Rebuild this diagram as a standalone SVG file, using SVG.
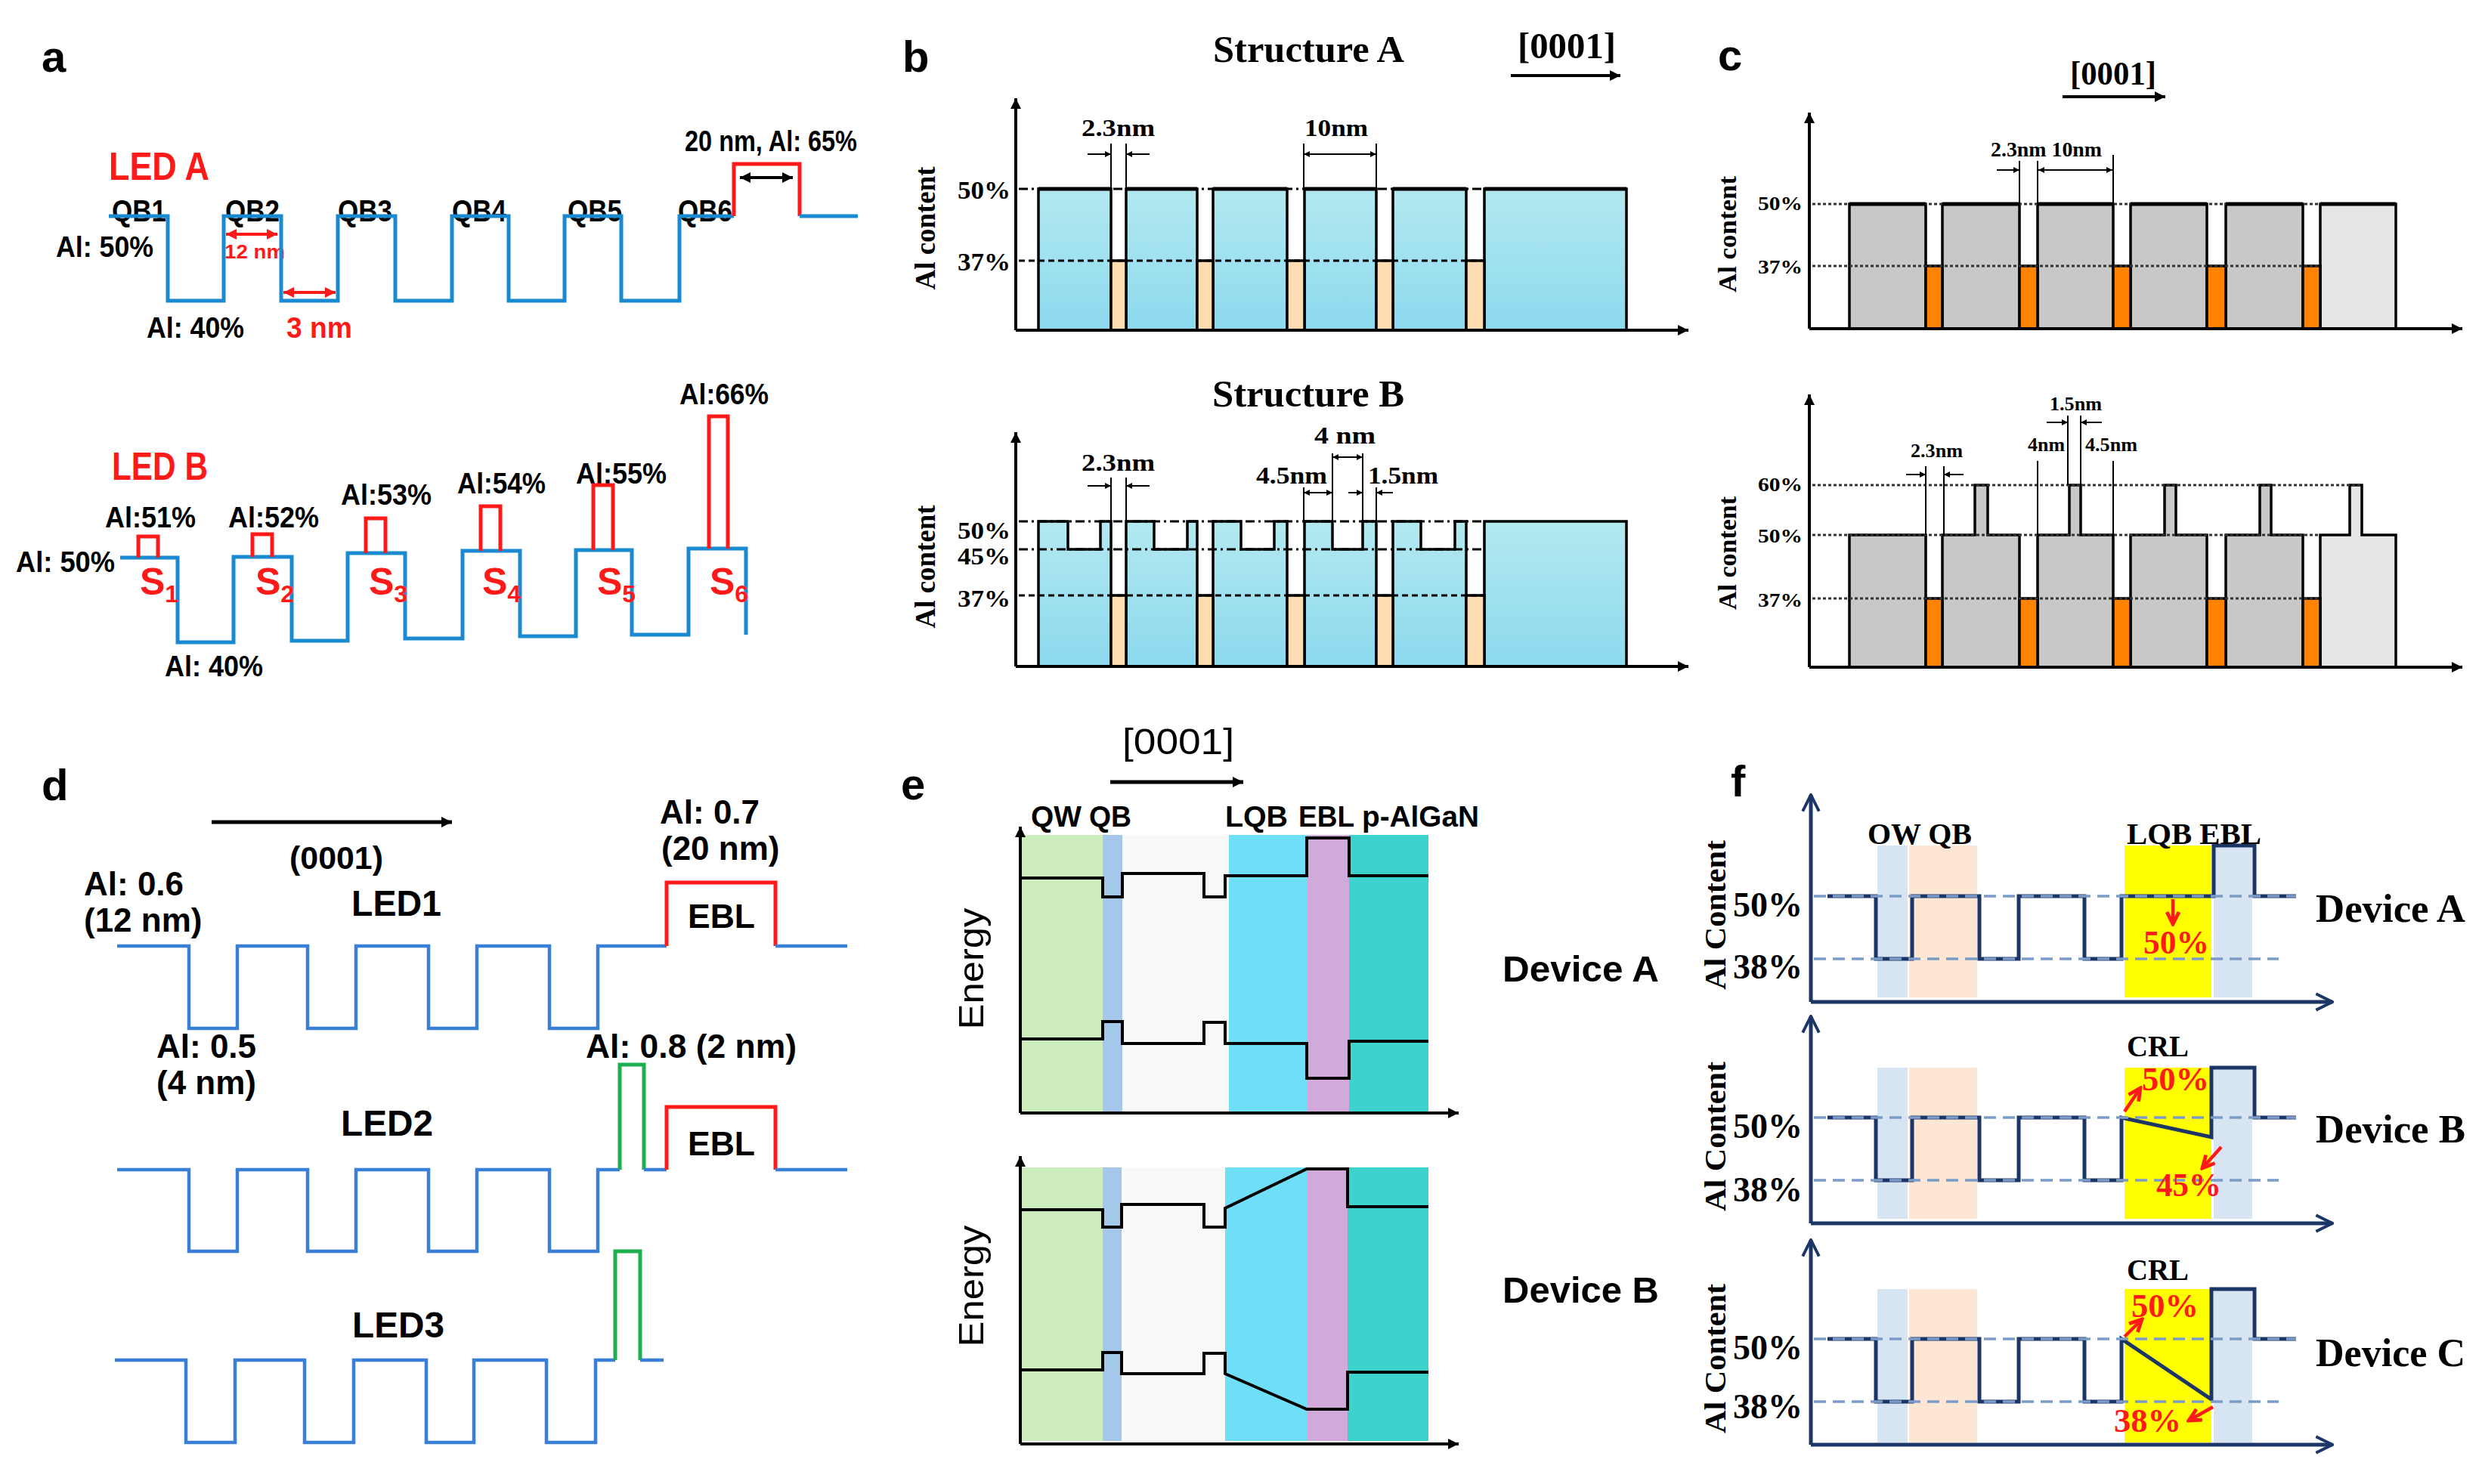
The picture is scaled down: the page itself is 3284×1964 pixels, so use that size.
<svg xmlns="http://www.w3.org/2000/svg" width="3284" height="1964" viewBox="0 0 3284 1964">
<defs>
<style>
.lbl{font-family:"Liberation Sans",Arial,sans-serif;font-weight:bold;font-size:58px;fill:#000}
.sb{font-family:"Liberation Sans",Arial,sans-serif;font-weight:bold}
.sr{font-family:"Liberation Sans",Arial,sans-serif;font-weight:normal}
.tm{font-family:"Liberation Serif","Times New Roman",serif;font-weight:bold}
.red{fill:#ff1a1a}
.wa{fill:none;stroke:#1a8ad0;stroke-width:5}
.wb{fill:none;stroke:#3a7fd6;stroke-width:4.5}
.wr{fill:none;stroke:#ff1a1a;stroke-width:5}
.wg{fill:none;stroke:#1db04e;stroke-width:5}
.ax{fill:none;stroke:#000;stroke-width:4}
.bx{stroke:#000;stroke-width:3.5}
.cy{fill:url(#gcy)}
.gr{fill:#c8c8c8}
.lg{fill:#e5e5e5}
.pe{fill:#fcdcb0}
.or{fill:#ff8200}
.dim{stroke:#000;stroke-width:2;fill:none}
.dd{stroke:#000;stroke-width:3;fill:none;stroke-dasharray:12 5 3 5}
.ds{stroke:#000;stroke-width:3;fill:none;stroke-dasharray:8 5}
.dt{stroke:#333;stroke-width:3;fill:none;stroke-dasharray:4 3}
.eb{fill:none;stroke:#000;stroke-width:4}
.nv{fill:none;stroke:#1c3567;stroke-width:5}
.fd{fill:none;stroke:#7b9cc8;stroke-width:3.5;stroke-dasharray:16 9}
.rf{fill:none;stroke:#ff1a1a;stroke-width:4.5}
</style>
<linearGradient id="gcy" x1="0" y1="0" x2="0" y2="1">
<stop offset="0" stop-color="#b3e9f0"/>
<stop offset="1" stop-color="#8cd9ee"/>
</linearGradient>
<marker id="mk" viewBox="0 0 10 10" refX="10" refY="5" markerWidth="20" markerHeight="14" markerUnits="userSpaceOnUse" orient="auto-start-reverse"><path d="M0,0 L10,5 L0,10 z" fill="#000"/></marker>
<marker id="ms" viewBox="0 0 10 10" refX="10" refY="5" markerWidth="11" markerHeight="8" markerUnits="userSpaceOnUse" orient="auto-start-reverse"><path d="M0,0 L10,5 L0,10 z" fill="#000"/></marker>
<marker id="mr" viewBox="0 0 10 10" refX="10" refY="5" markerWidth="18" markerHeight="14" markerUnits="userSpaceOnUse" orient="auto-start-reverse"><path d="M0,0 L10,5 L0,10 z" fill="#ff1a1a"/></marker>
<marker id="mrf" viewBox="0 0 10 10" refX="9" refY="5" markerWidth="22" markerHeight="20" markerUnits="userSpaceOnUse" orient="auto"><path d="M1,1 L9,5 L1,9" fill="none" stroke="#ff1a1a" stroke-width="2.4"/></marker>
<marker id="mc" viewBox="0 0 12 12" refX="11" refY="6" markerWidth="26" markerHeight="26" markerUnits="userSpaceOnUse" orient="auto"><path d="M1,1 L11,6 L1,11" fill="none" stroke="#1c3567" stroke-width="1.8"/></marker>
</defs>
<rect width="3284" height="1964" fill="#fff"/>

<!-- ================= Panel a ================= -->
<g id="panel-a">
<text class="lbl" x="55" y="95">a</text>
<g id="led-a">
<text class="sb red" x="144" y="238" font-size="52" textLength="133" lengthAdjust="spacingAndGlyphs">LED A</text>
<text class="sb" x="148" y="293" font-size="40" textLength="72" lengthAdjust="spacingAndGlyphs">QB1</text>
<text class="sb" x="298" y="293" font-size="40" textLength="72" lengthAdjust="spacingAndGlyphs">QB2</text>
<text class="sb" x="447" y="293" font-size="40" textLength="72" lengthAdjust="spacingAndGlyphs">QB3</text>
<text class="sb" x="598" y="293" font-size="40" textLength="72" lengthAdjust="spacingAndGlyphs">QB4</text>
<text class="sb" x="751" y="293" font-size="40" textLength="72" lengthAdjust="spacingAndGlyphs">QB5</text>
<text class="sb" x="897" y="293" font-size="40" textLength="72" lengthAdjust="spacingAndGlyphs">QB6</text>
<text class="sb" x="906" y="200" font-size="38" textLength="228" lengthAdjust="spacingAndGlyphs">20 nm, Al: 65%</text>
<text class="sb" x="74" y="340" font-size="38" textLength="129" lengthAdjust="spacingAndGlyphs">Al: 50%</text>
<text class="sb" x="194" y="447" font-size="38" textLength="129" lengthAdjust="spacingAndGlyphs">Al: 40%</text>
<text class="sb red" x="379" y="447" font-size="38" textLength="87" lengthAdjust="spacingAndGlyphs">3 nm</text>
<text class="sb red" x="297" y="342" font-size="26" textLength="80" lengthAdjust="spacingAndGlyphs">12 nm</text>
<path class="wa" d="M144,286 H222 V398 H296 V286 H372 V398 H447 V286 H523 V398 H598 V286 H673 V398 H747 V286 H822 V398 H899 V286 H971"/>
<path class="wr" d="M971,286 V217 H1058 V286"/>
<path class="wa" d="M1058,286 H1135"/>
<line x1="299" y1="310" x2="367" y2="310" stroke="#ff1a1a" stroke-width="4" marker-start="url(#mr)" marker-end="url(#mr)"/>
<line x1="375" y1="387" x2="444" y2="387" stroke="#ff1a1a" stroke-width="4" marker-start="url(#mr)" marker-end="url(#mr)"/>
<line x1="979" y1="235" x2="1049" y2="235" stroke="#000" stroke-width="4" marker-start="url(#mk)" marker-end="url(#mk)"/>
</g>
<g id="led-b">
<text class="sb red" x="148" y="635" font-size="52" textLength="127" lengthAdjust="spacingAndGlyphs">LED B</text>
<text class="sb" x="139" y="698" font-size="38" textLength="120" lengthAdjust="spacingAndGlyphs">Al:51%</text>
<text class="sb" x="302" y="698" font-size="38" textLength="120" lengthAdjust="spacingAndGlyphs">Al:52%</text>
<text class="sb" x="451" y="668" font-size="38" textLength="120" lengthAdjust="spacingAndGlyphs">Al:53%</text>
<text class="sb" x="605" y="653" font-size="38" textLength="117" lengthAdjust="spacingAndGlyphs">Al:54%</text>
<text class="sb" x="762" y="640" font-size="38" textLength="120" lengthAdjust="spacingAndGlyphs">Al:55%</text>
<text class="sb" x="899" y="535" font-size="38" textLength="118" lengthAdjust="spacingAndGlyphs">Al:66%</text>
<text class="sb" x="21" y="757" font-size="38" textLength="131" lengthAdjust="spacingAndGlyphs">Al: 50%</text>
<text class="sb" x="218" y="895" font-size="38" textLength="130" lengthAdjust="spacingAndGlyphs">Al: 40%</text>
<path class="wa" d="M159,738 H235 V850 H309 V737 H386 V848 H460 V732 H536 V845 H612 V729 H688 V842 H762 V728 H836 V840 H911 V726 H987 V840"/>
<path class="wr" d="M183,738 V710 H209 V738"/>
<path class="wr" d="M334,737 V707 H360 V737"/>
<path class="wr" d="M484,732 V686 H510 V732"/>
<path class="wr" d="M636,729 V670 H662 V729"/>
<path class="wr" d="M785,728 V642 H811 V728"/>
<path class="wr" d="M938,726 V551 H963 V726"/>
<text class="sb red" x="185" y="787" font-size="50">S<tspan font-size="32" dy="10">1</tspan></text>
<text class="sb red" x="338" y="787" font-size="50">S<tspan font-size="32" dy="10">2</tspan></text>
<text class="sb red" x="488" y="787" font-size="50">S<tspan font-size="32" dy="10">3</tspan></text>
<text class="sb red" x="638" y="787" font-size="50">S<tspan font-size="32" dy="10">4</tspan></text>
<text class="sb red" x="790" y="787" font-size="50">S<tspan font-size="32" dy="10">5</tspan></text>
<text class="sb red" x="939" y="787" font-size="50">S<tspan font-size="32" dy="10">6</tspan></text>
</g>
</g>

<!-- ================= Panel b ================= -->
<g id="panel-b">
<text class="lbl" x="1194" y="95">b</text>
<g id="structure-a">
<text class="tm" x="1605" y="82" font-size="50" textLength="253" lengthAdjust="spacingAndGlyphs">Structure A</text>
<text class="tm" x="2008" y="77" font-size="48" textLength="130" lengthAdjust="spacingAndGlyphs">[0001]</text>
<line x1="1999" y1="100" x2="2144" y2="100" stroke="#000" stroke-width="4" marker-end="url(#mk)"/>
<rect class="bx cy" x="1374" y="250" width="96" height="187"/>
<rect class="bx cy" x="1490" y="250" width="94" height="187"/>
<rect class="bx cy" x="1605" y="250" width="98" height="187"/>
<rect class="bx cy" x="1726" y="250" width="95" height="187"/>
<rect class="bx cy" x="1843" y="250" width="97" height="187"/>
<rect class="bx cy" x="1964" y="250" width="188" height="187"/>
<rect class="bx pe" x="1470" y="345" width="20" height="92"/>
<rect class="bx pe" x="1584" y="345" width="21" height="92"/>
<rect class="bx pe" x="1703" y="345" width="23" height="92"/>
<rect class="bx pe" x="1821" y="345" width="22" height="92"/>
<rect class="bx pe" x="1940" y="345" width="24" height="92"/>
<line class="dd" x1="1348" y1="250" x2="1964" y2="250"/>
<line class="ds" x1="1348" y1="345" x2="1964" y2="345"/>
<path d="M1374,250 H1470 M1490,250 H1584 M1605,250 H1703 M1726,250 H1821 M1843,250 H1940 M1964,250 H2152" stroke="#000" stroke-width="5"/>
<path class="ax" d="M1344,437 V130" marker-end="url(#mk)"/>
<path class="ax" d="M1344,437 H2234" marker-end="url(#mk)"/>
<text class="tm" x="1237" y="302" font-size="38" text-anchor="middle" transform="rotate(-90 1237 302)" textLength="163" lengthAdjust="spacingAndGlyphs">Al content</text>
<text class="tm" x="1267" y="263" font-size="34" textLength="70" lengthAdjust="spacingAndGlyphs">50%</text>
<text class="tm" x="1267" y="358" font-size="34" textLength="70" lengthAdjust="spacingAndGlyphs">37%</text>
<path class="dim" d="M1470,190 V250 M1490,190 V250 M1725,190 V250 M1821,190 V250"/>
<line x1="1439" y1="204" x2="1470" y2="204" class="dim" marker-end="url(#ms)"/>
<line x1="1521" y1="204" x2="1490" y2="204" class="dim" marker-end="url(#ms)"/>
<line x1="1725" y1="204" x2="1821" y2="204" class="dim" marker-start="url(#ms)" marker-end="url(#ms)"/>
<text class="tm" x="1431" y="180" font-size="32" textLength="97" lengthAdjust="spacingAndGlyphs">2.3nm</text>
<text class="tm" x="1726" y="180" font-size="32" textLength="84" lengthAdjust="spacingAndGlyphs">10nm</text>
</g>
<g id="structure-b">
<text class="tm" x="1604" y="538" font-size="50" textLength="254" lengthAdjust="spacingAndGlyphs">Structure B</text>
<path class="bx cy" d="M1374,882 V690 H1413 V727 H1456 V690 H1470 V882 Z"/>
<path class="bx cy" d="M1490,882 V690 H1527 V727 H1571 V690 H1584 V882 Z"/>
<path class="bx cy" d="M1605,882 V690 H1642 V727 H1686 V690 H1703 V882 Z"/>
<path class="bx cy" d="M1726,882 V690 H1763 V727 H1803 V690 H1821 V882 Z"/>
<path class="bx cy" d="M1843,882 V690 H1880 V727 H1925 V690 H1940 V882 Z"/>
<rect class="bx cy" x="1964" y="690" width="188" height="192"/>
<rect class="bx pe" x="1470" y="788" width="20" height="94"/>
<rect class="bx pe" x="1584" y="788" width="21" height="94"/>
<rect class="bx pe" x="1703" y="788" width="23" height="94"/>
<rect class="bx pe" x="1821" y="788" width="22" height="94"/>
<rect class="bx pe" x="1940" y="788" width="24" height="94"/>
<line class="dd" x1="1348" y1="690" x2="1964" y2="690"/>
<line class="dd" x1="1348" y1="727" x2="1964" y2="727"/>
<line class="ds" x1="1348" y1="788" x2="1964" y2="788"/>
<path class="ax" d="M1344,882 V572" marker-end="url(#mk)"/>
<path class="ax" d="M1344,882 H2234" marker-end="url(#mk)"/>
<text class="tm" x="1237" y="750" font-size="38" text-anchor="middle" transform="rotate(-90 1237 750)" textLength="163" lengthAdjust="spacingAndGlyphs">Al content</text>
<text class="tm" x="1267" y="713" font-size="32" textLength="70" lengthAdjust="spacingAndGlyphs">50%</text>
<text class="tm" x="1267" y="747" font-size="32" textLength="70" lengthAdjust="spacingAndGlyphs">45%</text>
<text class="tm" x="1267" y="803" font-size="32" textLength="70" lengthAdjust="spacingAndGlyphs">37%</text>
<path class="dim" d="M1470,632 V690 M1490,632 V690 M1725,645 V690 M1763,600 V690 M1803,600 V690 M1821,645 V690"/>
<line x1="1439" y1="643" x2="1470" y2="643" class="dim" marker-end="url(#ms)"/>
<line x1="1521" y1="643" x2="1490" y2="643" class="dim" marker-end="url(#ms)"/>
<line x1="1763" y1="605" x2="1803" y2="605" class="dim" marker-start="url(#ms)" marker-end="url(#ms)"/>
<line x1="1725" y1="652" x2="1763" y2="652" class="dim" marker-start="url(#ms)" marker-end="url(#ms)"/>
<line x1="1784" y1="652" x2="1803" y2="652" class="dim" marker-end="url(#ms)"/>
<line x1="1843" y1="652" x2="1821" y2="652" class="dim" marker-end="url(#ms)"/>
<text class="tm" x="1431" y="623" font-size="32" textLength="97" lengthAdjust="spacingAndGlyphs">2.3nm</text>
<text class="tm" x="1739" y="587" font-size="32" textLength="81" lengthAdjust="spacingAndGlyphs">4 nm</text>
<text class="tm" x="1662" y="640" font-size="32" textLength="94" lengthAdjust="spacingAndGlyphs">4.5nm</text>
<text class="tm" x="1810" y="640" font-size="32" textLength="93" lengthAdjust="spacingAndGlyphs">1.5nm</text>
</g>
</g>

<!-- ================= Panel c ================= -->
<g id="panel-c">
<text class="lbl" x="2273" y="93">c</text>
<g id="c-upper">
<text class="tm" x="2739" y="112" font-size="44" textLength="114" lengthAdjust="spacingAndGlyphs">[0001]</text>
<line x1="2729" y1="128" x2="2865" y2="128" stroke="#000" stroke-width="4" marker-end="url(#mk)"/>
<rect class="bx gr" x="2447" y="270" width="101" height="165"/>
<rect class="bx gr" x="2570" y="270" width="102" height="165"/>
<rect class="bx gr" x="2696" y="270" width="100" height="165"/>
<rect class="bx gr" x="2819" y="270" width="101" height="165"/>
<rect class="bx gr" x="2945" y="270" width="102" height="165"/>
<rect class="bx lg" x="3070" y="270" width="100" height="165"/>
<rect class="bx or" x="2548" y="352" width="22" height="83"/>
<rect class="bx or" x="2672" y="352" width="24" height="83"/>
<rect class="bx or" x="2796" y="352" width="23" height="83"/>
<rect class="bx or" x="2920" y="352" width="25" height="83"/>
<rect class="bx or" x="3047" y="352" width="23" height="83"/>
<line class="dt" x1="2398" y1="270" x2="3070" y2="270"/>
<line class="dt" x1="2398" y1="352" x2="3070" y2="352"/>
<path d="M2447,270 H2548 M2570,270 H2672 M2696,270 H2796 M2819,270 H2920 M2945,270 H3047 M3070,270 H3170" stroke="#000" stroke-width="5"/>
<path class="ax" d="M2394,435 V149" marker-end="url(#mk)"/>
<path class="ax" d="M2394,435 H3258" marker-end="url(#mk)"/>
<text class="tm" x="2297" y="310" font-size="34" text-anchor="middle" transform="rotate(-90 2297 310)" textLength="154" lengthAdjust="spacingAndGlyphs">Al content</text>
<text class="tm" x="2326" y="278" font-size="26" textLength="59" lengthAdjust="spacingAndGlyphs">50%</text>
<text class="tm" x="2326" y="362" font-size="26" textLength="59" lengthAdjust="spacingAndGlyphs">37%</text>
<path class="dim" d="M2672,213 V270 M2696,213 V270 M2796,205 V270"/>
<line x1="2642" y1="225" x2="2672" y2="225" class="dim" marker-end="url(#ms)"/>
<line x1="2697" y1="225" x2="2795" y2="225" class="dim" marker-start="url(#ms)" marker-end="url(#ms)"/>
<text class="tm" x="2634" y="207" font-size="28" textLength="147" lengthAdjust="spacingAndGlyphs">2.3nm 10nm</text>
</g>
<g id="c-lower">
<rect class="bx gr" x="2447" y="708" width="101" height="175"/>
<path class="bx gr" d="M2570,883 V708 H2613 V642 H2630 V708 H2672 V883 Z"/>
<path class="bx gr" d="M2696,883 V708 H2738 V642 H2753 V708 H2796 V883 Z"/>
<path class="bx gr" d="M2819,883 V708 H2864 V642 H2879 V708 H2920 V883 Z"/>
<path class="bx gr" d="M2945,883 V708 H2990 V642 H3005 V708 H3047 V883 Z"/>
<path class="bx lg" d="M3070,883 V708 H3109 V642 H3125 V708 H3170 V883 Z"/>
<rect class="bx or" x="2548" y="792" width="22" height="91"/>
<rect class="bx or" x="2672" y="792" width="24" height="91"/>
<rect class="bx or" x="2796" y="792" width="23" height="91"/>
<rect class="bx or" x="2920" y="792" width="25" height="91"/>
<rect class="bx or" x="3047" y="792" width="23" height="91"/>
<line class="dt" x1="2398" y1="642" x2="3126" y2="642"/>
<line class="dt" x1="2398" y1="708" x2="3070" y2="708"/>
<line class="dt" x1="2398" y1="792" x2="3070" y2="792"/>
<path class="ax" d="M2394,883 V522" marker-end="url(#mk)"/>
<path class="ax" d="M2394,883 H3258" marker-end="url(#mk)"/>
<text class="tm" x="2297" y="732" font-size="34" text-anchor="middle" transform="rotate(-90 2297 732)" textLength="150" lengthAdjust="spacingAndGlyphs">Al content</text>
<text class="tm" x="2326" y="650" font-size="26" textLength="59" lengthAdjust="spacingAndGlyphs">60%</text>
<text class="tm" x="2326" y="718" font-size="26" textLength="59" lengthAdjust="spacingAndGlyphs">50%</text>
<text class="tm" x="2326" y="803" font-size="26" textLength="59" lengthAdjust="spacingAndGlyphs">37%</text>
<path class="dim" d="M2548,617 V708 M2572,617 V708 M2736,550 V642 M2753,550 V642 M2696,610 V708 M2796,610 V708"/>
<line x1="2522" y1="628" x2="2548" y2="628" class="dim" marker-end="url(#ms)"/>
<line x1="2598" y1="628" x2="2572" y2="628" class="dim" marker-end="url(#ms)"/>
<line x1="2708" y1="559" x2="2736" y2="559" class="dim" marker-end="url(#ms)"/>
<line x1="2781" y1="559" x2="2753" y2="559" class="dim" marker-end="url(#ms)"/>
<text class="tm" x="2528" y="605" font-size="26" textLength="69" lengthAdjust="spacingAndGlyphs">2.3nm</text>
<text class="tm" x="2712" y="543" font-size="26" textLength="69" lengthAdjust="spacingAndGlyphs">1.5nm</text>
<text class="tm" x="2683" y="597" font-size="26" textLength="49" lengthAdjust="spacingAndGlyphs">4nm</text>
<text class="tm" x="2759" y="597" font-size="26" textLength="69" lengthAdjust="spacingAndGlyphs">4.5nm</text>
</g>
</g>

<!-- ================= Panel d ================= -->
<g id="panel-d">
<text class="lbl" x="55" y="1059">d</text>
<line x1="280" y1="1088" x2="598" y2="1088" stroke="#000" stroke-width="5" marker-end="url(#mk)"/>
<text class="sb" x="383" y="1150" font-size="42" textLength="124" lengthAdjust="spacingAndGlyphs">(0001)</text>
<g id="led1">
<text class="sb" font-size="44"><tspan x="111" y="1185">Al: 0.6</tspan><tspan x="111" y="1233">(12 nm)</tspan></text>
<text class="sb" x="465" y="1212" font-size="48" textLength="119" lengthAdjust="spacingAndGlyphs">LED1</text>
<text class="sb" font-size="44"><tspan x="873" y="1090">Al: 0.7</tspan><tspan x="875" y="1138">(20 nm)</tspan></text>
<text class="sb" x="910" y="1228" font-size="44" textLength="89" lengthAdjust="spacingAndGlyphs">EBL</text>
<path class="wb" d="M155,1252 H250 V1361 H314 V1252 H407 V1361 H471 V1252 H567 V1361 H631 V1252 H727 V1361 H791 V1252 H882"/>
<path class="wr" d="M882,1252 V1168 H1026 V1252"/>
<path class="wb" d="M1026,1252 H1121"/>
</g>
<g id="led2">
<text class="sb" font-size="44"><tspan x="207" y="1400">Al: 0.5</tspan><tspan x="207" y="1448">(4 nm)</tspan></text>
<text class="sb" x="775" y="1400" font-size="44" textLength="279" lengthAdjust="spacingAndGlyphs">Al: 0.8 (2 nm)</text>
<text class="sb" x="451" y="1503" font-size="48" textLength="122" lengthAdjust="spacingAndGlyphs">LED2</text>
<text class="sb" x="910" y="1529" font-size="44" textLength="89" lengthAdjust="spacingAndGlyphs">EBL</text>
<path class="wb" d="M155,1548 H250 V1656 H314 V1548 H407 V1656 H471 V1548 H567 V1656 H631 V1548 H727 V1656 H791 V1548 H820"/>
<path class="wg" d="M820,1548 V1409 H852 V1548"/>
<path class="wb" d="M852,1548 H882"/>
<path class="wr" d="M882,1548 V1465 H1026 V1548"/>
<path class="wb" d="M1026,1548 H1121"/>
</g>
<g id="led3">
<text class="sb" x="466" y="1770" font-size="48" textLength="122" lengthAdjust="spacingAndGlyphs">LED3</text>
<path class="wb" d="M152,1800 H246 V1909 H311 V1800 H403 V1909 H468 V1800 H564 V1909 H627 V1800 H723 V1909 H788 V1800 H814"/>
<path class="wg" d="M814,1800 V1656 H847 V1800"/>
<path class="wb" d="M847,1800 H878"/>
</g>
</g>

<!-- ================= Panel e ================= -->
<g id="panel-e">
<text class="lbl" x="1192" y="1058">e</text>
<text class="sr" x="1485" y="998" font-size="48" textLength="148" lengthAdjust="spacingAndGlyphs">[0001]</text>
<line x1="1469" y1="1035" x2="1645" y2="1035" stroke="#000" stroke-width="5" marker-end="url(#mk)"/>
<text class="sb" x="1364" y="1094" font-size="38" textLength="67" lengthAdjust="spacingAndGlyphs">QW</text>
<text class="sb" x="1441" y="1094" font-size="38" textLength="56" lengthAdjust="spacingAndGlyphs">QB</text>
<text class="sb" x="1621" y="1094" font-size="38" textLength="83" lengthAdjust="spacingAndGlyphs">LQB</text>
<text class="sb" x="1718" y="1094" font-size="38" textLength="74" lengthAdjust="spacingAndGlyphs">EBL</text>
<text class="sb" x="1802" y="1094" font-size="38" textLength="155" lengthAdjust="spacingAndGlyphs">p-AlGaN</text>
<g id="device-a-e">
<rect x="1350" y="1105" width="109" height="366" fill="#cdeebc"/>
<rect x="1459" y="1105" width="26" height="366" fill="#a4c8ea"/>
<rect x="1485" y="1105" width="141" height="366" fill="#f9f9f7"/>
<rect x="1626" y="1105" width="103" height="366" fill="#6fdff8"/>
<rect x="1729" y="1105" width="56" height="366" fill="#d1a9db"/>
<rect x="1785" y="1105" width="105" height="366" fill="#3cd3cd"/>
<path class="eb" d="M1350,1162 H1459 V1187 H1485 V1156 H1593 V1187 H1621 V1159 H1729 V1109 H1785 V1159 H1890"/>
<path class="eb" d="M1350,1375 H1459 V1352 H1485 V1381 H1593 V1353 H1621 V1381 H1729 V1427 H1785 V1378 H1890"/>
<path class="ax" d="M1350,1473 V1094" marker-end="url(#mk)"/>
<path class="ax" d="M1350,1473 H1930" marker-end="url(#mk)"/>
<text class="sr" x="1301" y="1282" font-size="46" text-anchor="middle" transform="rotate(-90 1301 1282)" textLength="161" lengthAdjust="spacingAndGlyphs">Energy</text>
<text class="sb" x="1988" y="1299" font-size="48" textLength="207" lengthAdjust="spacingAndGlyphs">Device A</text>
</g>
<g id="device-b-e">
<rect x="1350" y="1545" width="109" height="362" fill="#cdeebc"/>
<rect x="1459" y="1545" width="25" height="362" fill="#a4c8ea"/>
<rect x="1484" y="1545" width="137" height="362" fill="#f9f9f7"/>
<rect x="1621" y="1545" width="108" height="362" fill="#6fdff8"/>
<rect x="1729" y="1545" width="54" height="362" fill="#d1a9db"/>
<rect x="1783" y="1545" width="107" height="362" fill="#3cd3cd"/>
<path class="eb" d="M1350,1601 H1459 V1624 H1484 V1594 H1593 V1624 H1621 V1599 L1729,1547 H1783 V1597 H1890"/>
<path class="eb" d="M1350,1813 H1459 V1790 H1484 V1818 H1593 V1791 H1621 V1818 L1729,1865 H1783 V1816 H1890"/>
<path class="ax" d="M1350,1911 V1530" marker-end="url(#mk)"/>
<path class="ax" d="M1350,1911 H1930" marker-end="url(#mk)"/>
<text class="sr" x="1301" y="1702" font-size="46" text-anchor="middle" transform="rotate(-90 1301 1702)" textLength="161" lengthAdjust="spacingAndGlyphs">Energy</text>
<text class="sb" x="1988" y="1724" font-size="48" textLength="207" lengthAdjust="spacingAndGlyphs">Device B</text>
</g>
</g>

<!-- ================= Panel f ================= -->
<g id="panel-f">
<text class="lbl" x="2290" y="1054">f</text>
<g id="device-a-f">
<rect x="2484" y="1119" width="40" height="201" fill="#d7e5f2"/>
<rect x="2526" y="1119" width="90" height="201" fill="#fde6d4"/>
<rect x="2811" y="1119" width="115" height="201" fill="#ffff00"/>
<rect x="2929" y="1119" width="51" height="201" fill="#d7e5f2"/>
<path class="nv" d="M2418,1186 H2482 V1269 H2530 V1186 H2619 V1269 H2671 V1186 H2758 V1269 H2807 V1186 H2929 V1119 H2983 V1186 H3038"/>
<line class="fd" x1="2400" y1="1186" x2="3038" y2="1186"/>
<line class="fd" x1="2400" y1="1269" x2="3015" y2="1269"/>
<path class="nv" d="M2396,1326 V1052" marker-end="url(#mc)"/>
<path class="nv" d="M2396,1326 H3086" marker-end="url(#mc)"/>
<text class="tm" x="2471" y="1117" font-size="40" textLength="138" lengthAdjust="spacingAndGlyphs">OW QB</text>
<text class="tm" x="2814" y="1117" font-size="40" textLength="178" lengthAdjust="spacingAndGlyphs">LQB EBL</text>
<text class="tm" x="2293" y="1213" font-size="46" textLength="92" lengthAdjust="spacingAndGlyphs">50%</text>
<text class="tm" x="2293" y="1295" font-size="46" textLength="92" lengthAdjust="spacingAndGlyphs">38%</text>
<text class="tm" x="2283" y="1211" font-size="40" text-anchor="middle" transform="rotate(-90 2283 1211)" textLength="198" lengthAdjust="spacingAndGlyphs">Al Content</text>
<text class="tm" x="3064" y="1220" font-size="52" textLength="198" lengthAdjust="spacingAndGlyphs">Device A</text>
<line class="rf" x1="2875" y1="1190" x2="2875" y2="1223" marker-end="url(#mrf)"/>
<text class="tm red" x="2836" y="1262" font-size="44" textLength="87" lengthAdjust="spacingAndGlyphs">50%</text>
</g>
<g id="device-b-f">
<rect x="2484" y="1413" width="40" height="200" fill="#d7e5f2"/>
<rect x="2526" y="1413" width="90" height="200" fill="#fde6d4"/>
<rect x="2811" y="1413" width="115" height="200" fill="#ffff00"/>
<rect x="2929" y="1413" width="51" height="200" fill="#d7e5f2"/>
<path class="nv" d="M2418,1479 H2482 V1562 H2530 V1479 H2619 V1562 H2671 V1479 H2758 V1562 H2807 V1479 L2926,1505 V1413 H2983 V1479 H3038"/>
<line class="fd" x1="2400" y1="1479" x2="3038" y2="1479"/>
<line class="fd" x1="2400" y1="1562" x2="3015" y2="1562"/>
<path class="nv" d="M2396,1619 V1345" marker-end="url(#mc)"/>
<path class="nv" d="M2396,1619 H3086" marker-end="url(#mc)"/>
<text class="tm" x="2814" y="1398" font-size="40" textLength="82" lengthAdjust="spacingAndGlyphs">CRL</text>
<text class="tm" x="2293" y="1506" font-size="46" textLength="92" lengthAdjust="spacingAndGlyphs">50%</text>
<text class="tm" x="2293" y="1590" font-size="46" textLength="92" lengthAdjust="spacingAndGlyphs">38%</text>
<text class="tm" x="2283" y="1504" font-size="40" text-anchor="middle" transform="rotate(-90 2283 1504)" textLength="198" lengthAdjust="spacingAndGlyphs">Al Content</text>
<text class="tm" x="3064" y="1512" font-size="52" textLength="198" lengthAdjust="spacingAndGlyphs">Device B</text>
<line class="rf" x1="2811" y1="1471" x2="2832" y2="1440" marker-end="url(#mrf)"/>
<text class="tm red" x="2834" y="1443" font-size="44" textLength="89" lengthAdjust="spacingAndGlyphs">50%</text>
<line class="rf" x1="2939" y1="1518" x2="2914" y2="1546" marker-end="url(#mrf)"/>
<text class="tm red" x="2853" y="1583" font-size="44" textLength="86" lengthAdjust="spacingAndGlyphs">45%</text>
</g>
<g id="device-c-f">
<rect x="2484" y="1706" width="40" height="203" fill="#d7e5f2"/>
<rect x="2526" y="1706" width="90" height="203" fill="#fde6d4"/>
<rect x="2811" y="1706" width="115" height="203" fill="#ffff00"/>
<rect x="2929" y="1706" width="51" height="203" fill="#d7e5f2"/>
<path class="nv" d="M2418,1772 H2482 V1855 H2530 V1772 H2619 V1855 H2671 V1772 H2758 V1855 H2807 V1772 L2926,1852 V1706 H2983 V1772 H3038"/>
<line class="fd" x1="2400" y1="1772" x2="3038" y2="1772"/>
<line class="fd" x1="2400" y1="1855" x2="3015" y2="1855"/>
<path class="nv" d="M2396,1912 V1641" marker-end="url(#mc)"/>
<path class="nv" d="M2396,1912 H3086" marker-end="url(#mc)"/>
<text class="tm" x="2814" y="1694" font-size="40" textLength="82" lengthAdjust="spacingAndGlyphs">CRL</text>
<text class="tm" x="2293" y="1799" font-size="46" textLength="92" lengthAdjust="spacingAndGlyphs">50%</text>
<text class="tm" x="2293" y="1877" font-size="46" textLength="92" lengthAdjust="spacingAndGlyphs">38%</text>
<text class="tm" x="2283" y="1798" font-size="40" text-anchor="middle" transform="rotate(-90 2283 1798)" textLength="198" lengthAdjust="spacingAndGlyphs">Al Content</text>
<text class="tm" x="3064" y="1808" font-size="52" textLength="198" lengthAdjust="spacingAndGlyphs">Device C</text>
<line class="rf" x1="2811" y1="1769" x2="2834" y2="1746" marker-end="url(#mrf)"/>
<text class="tm red" x="2820" y="1743" font-size="44" textLength="89" lengthAdjust="spacingAndGlyphs">50%</text>
<line class="rf" x1="2928" y1="1862" x2="2896" y2="1880" marker-end="url(#mrf)"/>
<text class="tm red" x="2797" y="1895" font-size="44" textLength="89" lengthAdjust="spacingAndGlyphs">38%</text>
</g>
</g>
</svg>
